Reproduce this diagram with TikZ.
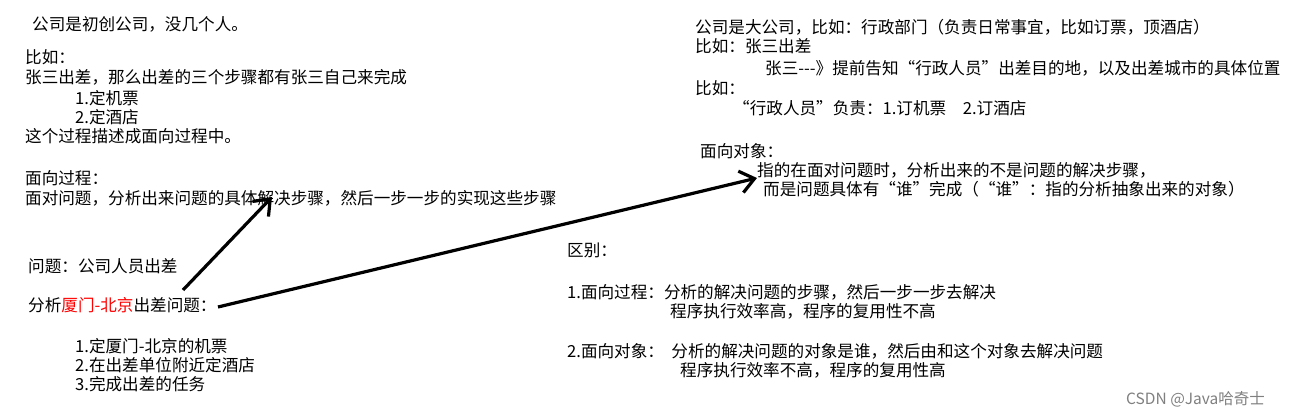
\documentclass[tikz,border=0pt]{standalone}
\usepackage{fontspec}
\setmainfont{Noto Sans CJK SC}
\usetikzlibrary{arrows.meta}
\begin{document}
\begin{tikzpicture}[x=1pt,y=-1pt,
  t/.style={anchor=west,inner sep=0pt,font=\fontsize{16.6}{18}\selectfont},
  bigarrow/.style={line width=3.2pt,-{Straight Barb[length=14pt,width=22pt,line width=3.2pt]}}]
\useasboundingbox[fill=white] (0,0) rectangle (1302,418);
\node[t] (a1) at (32,24) {公司是初创公司，没几个人。};
\node[t] (a2) at (25,57) {比如：};
\node[t] (a3) at (25,77) {张三出差，那么出差的三个步骤都有张三自己来完成};
\node[t] (a4) at (75,98) {1.定机票};
\node[t] (a5) at (75,117) {2.定酒店};
\node[t] (a6) at (25,136) {这个过程描述成面向过程中。};
\node[t] (a7) at (25,178) {面向过程：};
\node[t] (a8) at (25,198) {面对问题，分析出来问题的具体解决步骤，然后一步一步的实现这些步骤};
\node[t] (b1) at (28,266) {问题：公司人员出差};
\node[t] (b2) at (28,305) {分析\textcolor{red}{厦门-北京}出差问题：};
\node[t] (b3) at (75,346) {1.定厦门-北京的机票};
\node[t] (b4) at (75,365) {2.在出差单位附近定酒店};
\node[t] (b5) at (75,384) {3.完成出差的任务};
\node[t] (c1) at (695,27) {公司是大公司，比如：行政部门（负责日常事宜，比如订票，顶酒店）};
\node[t] (c2) at (695,46) {比如：张三出差};
\node[t] (c3) at (765,68) {张三{-}{-}{-}》提前告知“行政人员”出差目的地，以及出差城市的具体位置};
\node[t] (c4) at (695,88) {比如：};
\node[t] (c5) at (733,108) {“行政人员”负责：1.订机票\quad 2.订酒店};
\node[t] (c6) at (700,151) {面向对象：};
\node[t] (c7) at (757,170) {指的在面对问题时，分析出来的不是问题的解决步骤，};
\node[t] (c8) at (763,189) {而是问题具体有“谁”完成（“谁”：指的分析抽象出来的对象）};
\node[t] (d1) at (567,250) {区别：};
\node[t] (d2) at (567,292) {1.面向过程：分析的解决问题的步骤，然后一步一步去解决};
\node[t] (d3) at (670,311) {程序执行效率高，程序的复用性不高};
\node[t] (d4) at (567,351) {2.面向对象：\ \ 分析的解决问题的对象是谁，然后由和这个对象去解决问题};
\node[t] (d5) at (680,370) {程序执行效率不高，程序的复用性高};
\node[t,text=gray,font=\fontsize{15.5}{17}\selectfont] (w) at (1126,399) {CSDN @Java哈奇士};
\coordinate (p1) at (183,290);
\coordinate (q1) at (272,197);
\coordinate (p2) at (218,307);
\coordinate (q2) at (757,178);
\draw[bigarrow] (p1) -- (q1);
\draw[bigarrow] (p2) -- (q2);
\end{tikzpicture}
\end{document}
